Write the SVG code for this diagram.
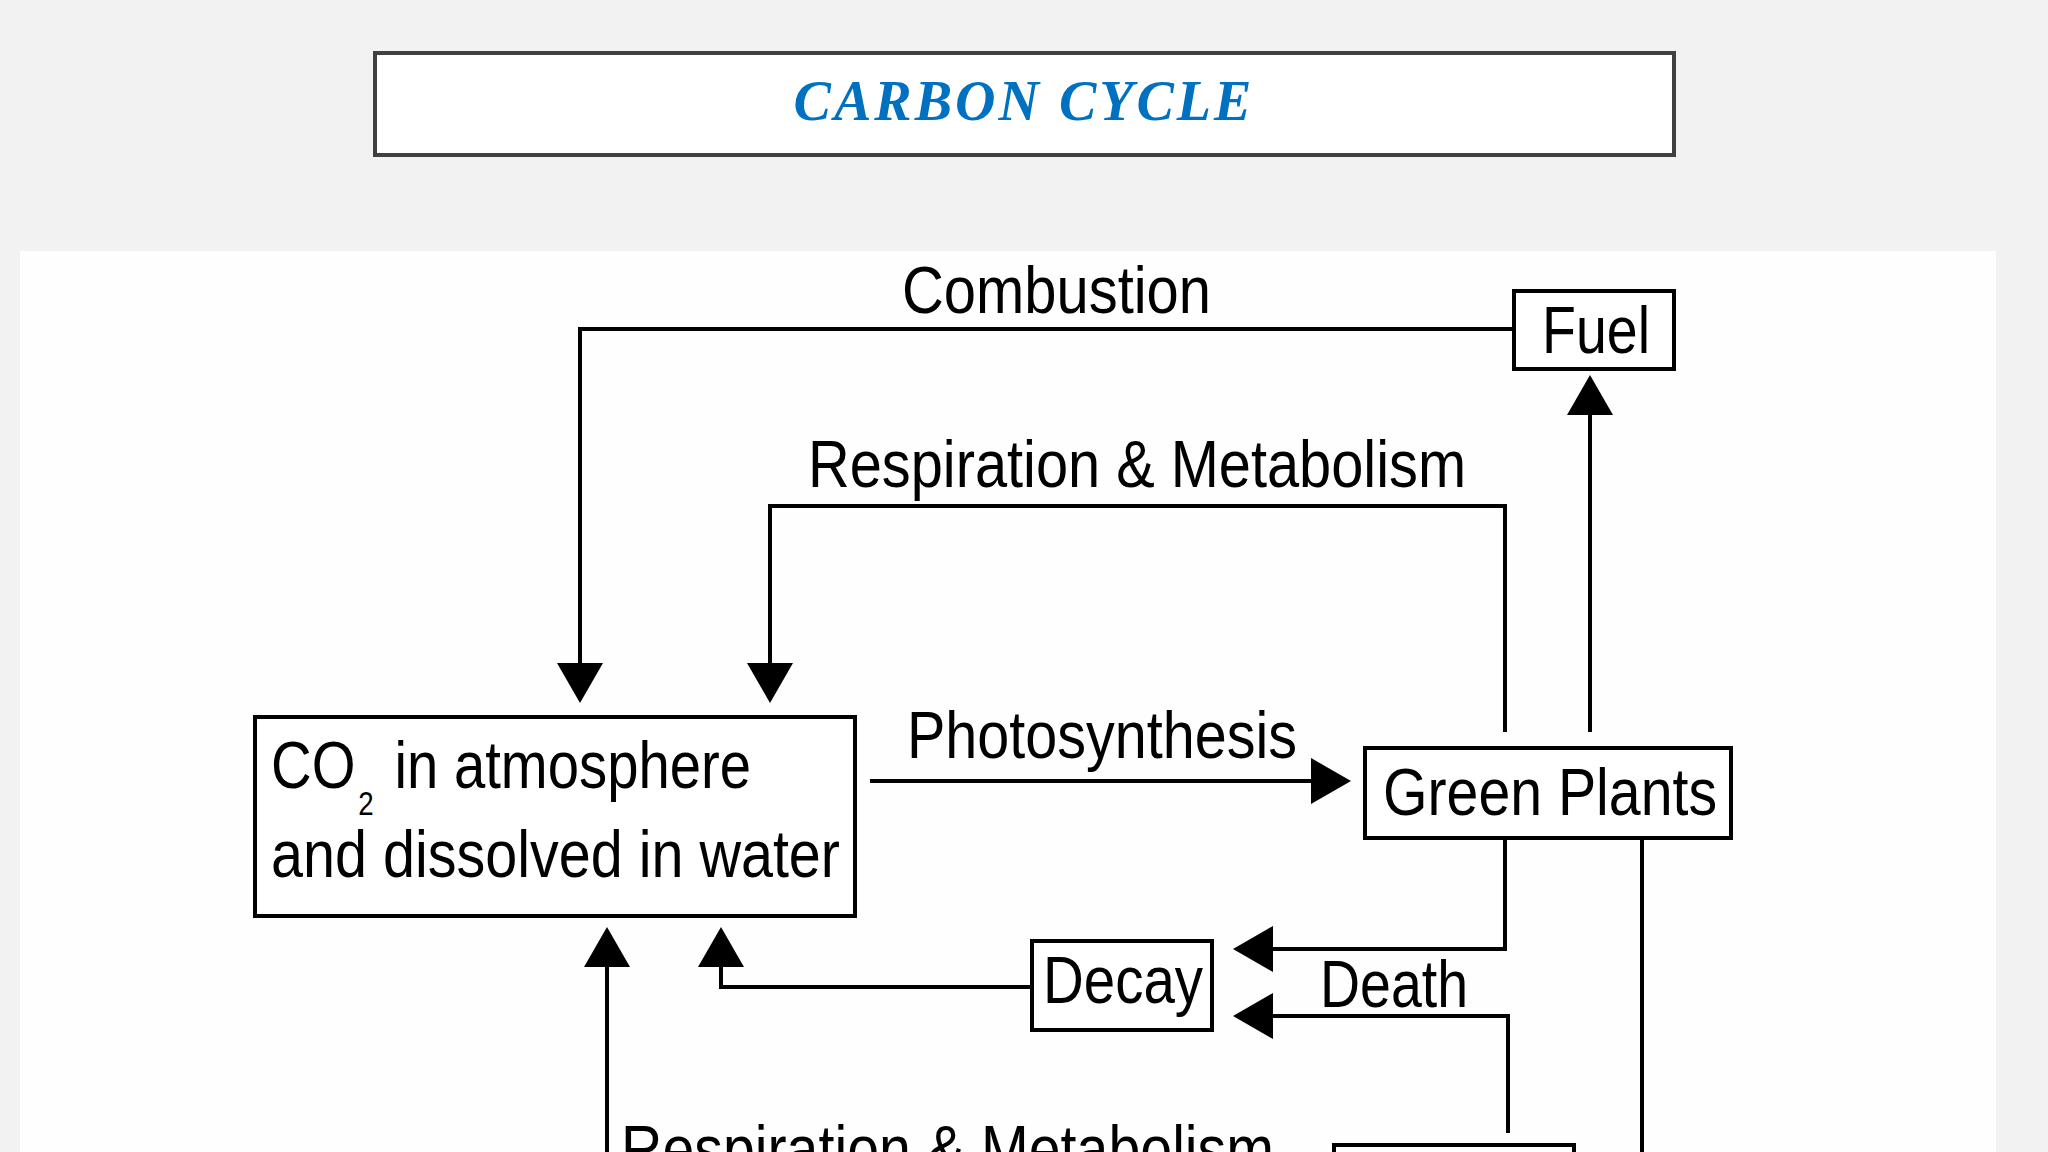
<svg xmlns="http://www.w3.org/2000/svg" width="2048" height="1152" viewBox="0 0 2048 1152">
<style>
.lbl{font-family:"Liberation Sans",Arial,sans-serif;font-size:67px;fill:#000}
.box{fill:#fff;stroke:#000;stroke-width:4}
.con{fill:none;stroke:#000;stroke-width:4}
.title{font-family:"Liberation Serif","Times New Roman",serif;font-size:56px;font-weight:bold;font-style:italic;fill:#0070C0;letter-spacing:3px}
</style>
<defs>
<marker id="arrow" viewBox="0 -23 40 46" markerWidth="40" markerHeight="46" refX="0" refY="0" markerUnits="userSpaceOnUse" orient="auto">
<path d="M0,-23 L40,0 L0,23 z" fill="#000"/>
</marker>
</defs>
<rect x="0" y="0" width="2048" height="1152" fill="#f2f2f2"/>
<rect x="20" y="251" width="1976" height="901" fill="#fefefe"/>
<g id="title">
<rect x="375" y="53" width="1299" height="102" fill="#fff" stroke="#404040" stroke-width="4"/>
<text class="title" x="1024" y="120" text-anchor="middle">CARBON CYCLE</text>
</g>
<g id="connectors">
<path class="con" d="M1514 329 H580 V663" marker-end="url(#arrow)"/>
<path class="con" d="M1505 732 V506 H770 V663" marker-end="url(#arrow)"/>
<path class="con" d="M870 781 H1311" marker-end="url(#arrow)"/>
<path class="con" d="M1590 732 V415" marker-end="url(#arrow)"/>
<path class="con" d="M1505 838 V949 H1273" marker-end="url(#arrow)"/>
<path class="con" d="M1508 1133 V1016 H1273" marker-end="url(#arrow)"/>
<path class="con" d="M1032 987 H721 V967" marker-end="url(#arrow)"/>
<path class="con" d="M607 1160 V967" marker-end="url(#arrow)"/>
<path class="con" d="M1642 838 V1160"/>
<text class="lbl" x="902" y="313" textLength="309" lengthAdjust="spacingAndGlyphs">Combustion</text>
<text class="lbl" x="808" y="487" textLength="658" lengthAdjust="spacingAndGlyphs">Respiration &amp; Metabolism</text>
<text class="lbl" x="907" y="758" textLength="390" lengthAdjust="spacingAndGlyphs">Photosynthesis</text>
<text class="lbl" x="1320" y="1007" textLength="148" lengthAdjust="spacingAndGlyphs">Death</text>
<text class="lbl" x="621" y="1172" textLength="653" lengthAdjust="spacingAndGlyphs">Respiration &amp; Metabolism</text>
</g>
<g id="co2">
<rect class="box" x="255" y="717" width="600" height="199"/>
<text class="lbl" transform="translate(271,788) scale(0.84,1)" x="0" y="0">CO<tspan x="104" dy="27" style="font-size:33px">2</tspan><tspan x="147" dy="-27">in atmosphere</tspan></text>
<text class="lbl" x="271" y="877" textLength="569" lengthAdjust="spacingAndGlyphs">and dissolved in water</text>
</g>
<g id="green-plants">
<rect class="box" x="1365" y="748" width="366" height="90"/>
<text class="lbl" x="1383" y="815" textLength="334" lengthAdjust="spacingAndGlyphs">Green Plants</text>
</g>
<g id="fuel">
<rect class="box" x="1514" y="291" width="160" height="78"/>
<text class="lbl" x="1542" y="353" textLength="108" lengthAdjust="spacingAndGlyphs">Fuel</text>
</g>
<g id="decay">
<rect class="box" x="1032" y="941" width="180" height="89"/>
<text class="lbl" x="1043" y="1003" textLength="160" lengthAdjust="spacingAndGlyphs">Decay</text>
</g>
<g id="bottom-node">
<rect class="box" x="1334" y="1145" width="240" height="60"/>
</g>
</svg>
